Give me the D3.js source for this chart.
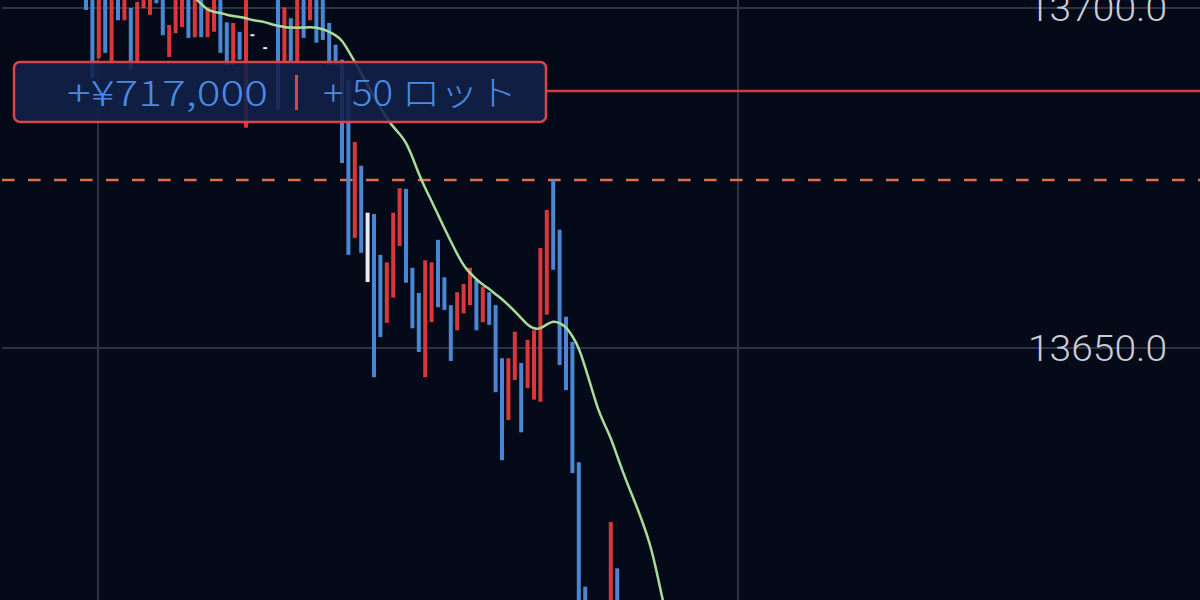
<!DOCTYPE html>
<html>
<head>
<meta charset="utf-8">
<script src="https://cdn.jsdelivr.net/npm/d3@7"></script>
<style>
  html, body { margin: 0; padding: 0; background: #040a17; overflow: hidden; }
</style>
</head>
<body>
<div id="chart"></div>
<script>
var width = 1200,
    height = 600;

// bar highs / lows (null = no trade in that slot)
var highs = [13703, 13703, 13703, 13703, 13703, 13703, 13703, 13700.0, 13700.9, 13703,
    13703, 13703, 13703, 13697.5, 13703, 13703, 13703, 13703, 13703, 13700.1,
    13703, 13703, 13697.9, 13697.8, 13696.5, 13703, 13696.0, null, 13694.1, null,
    13703, 13700.1, 13698.5, 13703, 13703, 13703, 13703, 13703, 13697.8, 13694.6,
    13692.4, 13689.4, 13680.3, 13676.8, 13669.9, 13669.7, 13663.7, 13662.6, 13669.9, 13673.5,
    13673.4, 13661.8, 13658.1, 13662.9, 13662.6, 13665.9, 13660.4, 13656.3, 13658.2, 13659.4,
    13661.8, 13660.0, 13659.0, 13658.2, 13656.3, 13648.5, 13648.5, 13652.4, 13647.8, 13651.2,
    13652.6, 13664.7, 13670.3, 13674.7, 13667.4, 13654.6, 13650.9, 13633.2, 13614.9, 13608.0,
    13606.0, 13604.0, 13624.4, 13617.6];
var lows = [13699.7, 13689.7, 13692.6, 13693.4, 13692.1, 13698.2, 13698.2, 13690.9, 13692.1, 13700.0,
    13699.0, 13700.7, 13696.0, 13692.8, 13696.3, 13697.2, 13695.6, 13695.7, 13695.7, 13695.7,
    13696.5, 13693.4, 13691.6, 13691.6, 13692.4, 13682.4, 13696.0, null, 13694.1, null,
    13685.0, 13692.1, 13692.1, 13692.1, 13695.6, 13698.2, 13694.9, 13695.3, 13691.6, 13691.6,
    13677.2, 13663.7, 13666.2, 13664.0, 13659.7, 13645.7, 13651.6, 13653.7, 13657.4, 13665.0,
    13659.6, 13652.9, 13649.4, 13645.7, 13653.8, 13656.0, 13655.6, 13648.1, 13652.6, 13655.1,
    13656.3, 13652.6, 13653.8, 13653.4, 13643.5, 13633.5, 13639.4, 13645.3, 13637.6, 13644.1,
    13642.4, 13642.1, 13654.9, 13661.5, 13647.5, 13643.8, 13631.6, 13606.0, 13604.0, 13600.0,
    13598.0, 13596.0, 13600.0, 13600.0];
// 1 = up (red), -1 = down (blue), 0 = unchanged (white)
var moves = [-1, -1, 1, -1, 1, -1, 1, -1, 1, 1,
    1, -1, -1, 1, 1, 1, -1, 1, -1, 1,
    1, -1, -1, 1, -1, 1, 0, 0, 0, 0,
    -1, 1, -1, 1, -1, 1, -1, -1, -1, -1,
    -1, -1, 1, -1, 0, -1, -1, 1, 1, 1,
    -1, -1, -1, 1, 1, -1, -1, -1, 1, 1,
    1, -1, 1, -1, -1, -1, 1, 1, -1, 1,
    1, 1, 1, -1, -1, -1, -1, -1, -1, -1,
    -1, 1, 1, -1];

// moving average, starts at bar 17
var maStart = 17;
var maValues = [13701.5, 13700.6, 13699.7, 13699.4, 13699.3, 13699.0, 13698.8, 13698.7, 13698.5, 13698.2,
    13698.1, 13697.9, 13697.6, 13697.4, 13697.2, 13697.1, 13697.1, 13697.1, 13697.2, 13697.1,
    13696.9, 13696.5, 13696.0, 13695.3, 13693.7, 13692.1, 13690.4, 13688.7, 13686.9, 13685.3,
    13683.8, 13682.5, 13681.5, 13680.3, 13678.1, 13675.6, 13673.5, 13671.6, 13669.6, 13667.6,
    13665.7, 13663.8, 13662.1, 13661.0, 13660.1, 13659.3, 13658.7, 13657.9, 13657.2, 13656.3,
    13655.4, 13654.4, 13653.4, 13652.8, 13652.8, 13653.5, 13654.0, 13653.7, 13653.1, 13651.8,
    13650.1, 13647.2, 13644.1, 13640.9, 13638.8, 13636.8, 13634.1, 13631.5, 13629.1, 13626.8,
    13624.3, 13621.6, 13617.9, 13613.4, 13609.3];

var priceTicks = [13650, 13700];
var timeGrid = [1.875, 101.875];
var orderPrice = 13674.7;
var positionPrice = 13687.8;
var positionPnl = "+¥717,000";
var positionLots = "+ 50 ロット";

var colors = { up: "#d9383a", down: "#4a86d4", flat: "#e8ecf2" };

var svg = d3.select("#chart")
    .append("svg")
    .attr("width", width)
    .attr("height", height)
    .style("display", "block");

svg.append("rect")
    .attr("width", width)
    .attr("height", height)
    .attr("fill", "#040a17");

var x = d3.scaleLinear().domain([0, 100]).range([86, 726]);
var y = d3.scaleLinear().domain([13650, 13700]).range([348, 8]);

// grid
svg.selectAll("line.hgrid")
    .data(priceTicks)
    .enter()
    .append("line")
    .attr("class", "hgrid")
    .attr("x1", 2).attr("x2", width)
    .attr("y1", function (d) { return y(d); })
    .attr("y2", function (d) { return y(d); })
    .attr("stroke", "#2c3345")
    .attr("stroke-width", 2);

svg.selectAll("line.vgrid")
    .data(timeGrid)
    .enter()
    .append("line")
    .attr("class", "vgrid")
    .attr("x1", function (d) { return x(d); })
    .attr("x2", function (d) { return x(d); })
    .attr("y1", 0).attr("y2", height)
    .attr("stroke", "#2c3345")
    .attr("stroke-width", 2);

// price labels
svg.selectAll("text.price")
    .data(priceTicks)
    .enter()
    .append("text")
    .attr("class", "price")
    .attr("x", 1167)
    .attr("y", function (d) { return y(d); })
    .attr("dy", "0.36em")
    .attr("text-anchor", "end")
    .attr("fill", "#c9cdd8")
    .style("font-family", "Roboto, 'Noto Sans', sans-serif")
    .style("font-weight", 300)
    .style("font-size", "36px")
    .attr("textLength", 139)
    .attr("lengthAdjust", "spacingAndGlyphs")
    .text(function (d) { return d3.format(".1f")(d); });

// dashed order line
svg.append("line")
    .attr("x1", 2).attr("x2", width)
    .attr("y1", y(orderPrice)).attr("y2", y(orderPrice))
    .attr("stroke", "#e0704c")
    .attr("stroke-width", 2.5)
    .attr("stroke-dasharray", "12.6,13.4");

// bars
var bars = d3.range(highs.length).filter(function (i) { return highs[i] !== null; });

svg.selectAll("rect.bar")
    .data(bars)
    .enter()
    .append("rect")
    .attr("class", "bar")
    .attr("x", function (i) { return x(i) - 2; })
    .attr("width", 4)
    .attr("y", function (i) { return y(highs[i]) - (highs[i] === lows[i] ? 1 : 0); })
    .attr("height", function (i) { return Math.max(2, y(lows[i]) - y(highs[i])); })
    .attr("fill", function (i) {
        if (moves[i] > 0) return colors.up;
        if (moves[i] < 0) return colors.down;
        return colors.flat;
    });

// moving average
var ma = d3.line()
    .x(function (d, i) { return x(i + maStart); })
    .y(function (d) { return y(d); })
    .curve(d3.curveBasis);

svg.append("path")
    .datum(maValues)
    .attr("d", ma)
    .attr("fill", "none")
    .attr("stroke", "#a9dc9a")
    .attr("stroke-width", 2.5);

// position line + label
var py = y(positionPrice);

svg.append("line")
    .attr("x1", 547).attr("x2", width)
    .attr("y1", py).attr("y2", py)
    .attr("stroke", "#d63c40")
    .attr("stroke-width", 2.5);

var tag = svg.append("g");

tag.append("rect")
    .attr("x", 14).attr("y", py - 29)
    .attr("width", 532).attr("height", 60)
    .attr("rx", 6)
    .attr("fill", "#12214a")
    .attr("fill-opacity", 0.88)
    .attr("stroke", "#dc4448")
    .attr("stroke-width", 2.5);

tag.append("text")
    .attr("x", 67).attr("y", py + 15)
    .attr("fill", "#4a8ae2")
    .style("font-family", "'Noto Sans CJK JP', 'Noto Sans', sans-serif")
    .style("font-weight", 300)
    .style("font-size", "35px")
    .attr("textLength", 201)
    .attr("lengthAdjust", "spacingAndGlyphs")
    .text(positionPnl);

tag.append("line")
    .attr("x1", 296.5).attr("x2", 296.5)
    .attr("y1", py - 16).attr("y2", py + 19)
    .attr("stroke", "#dc4448")
    .attr("stroke-width", 3);

tag.append("text")
    .attr("x", 323).attr("y", py + 15)
    .attr("fill", "#4a8ae2")
    .style("font-family", "'Noto Sans CJK JP', 'Noto Sans', sans-serif")
    .style("font-weight", 300)
    .style("font-size", "35px")
    .attr("textLength", 194)
    .attr("lengthAdjust", "spacingAndGlyphs")
    .text(positionLots);
</script>
</body>
</html>
